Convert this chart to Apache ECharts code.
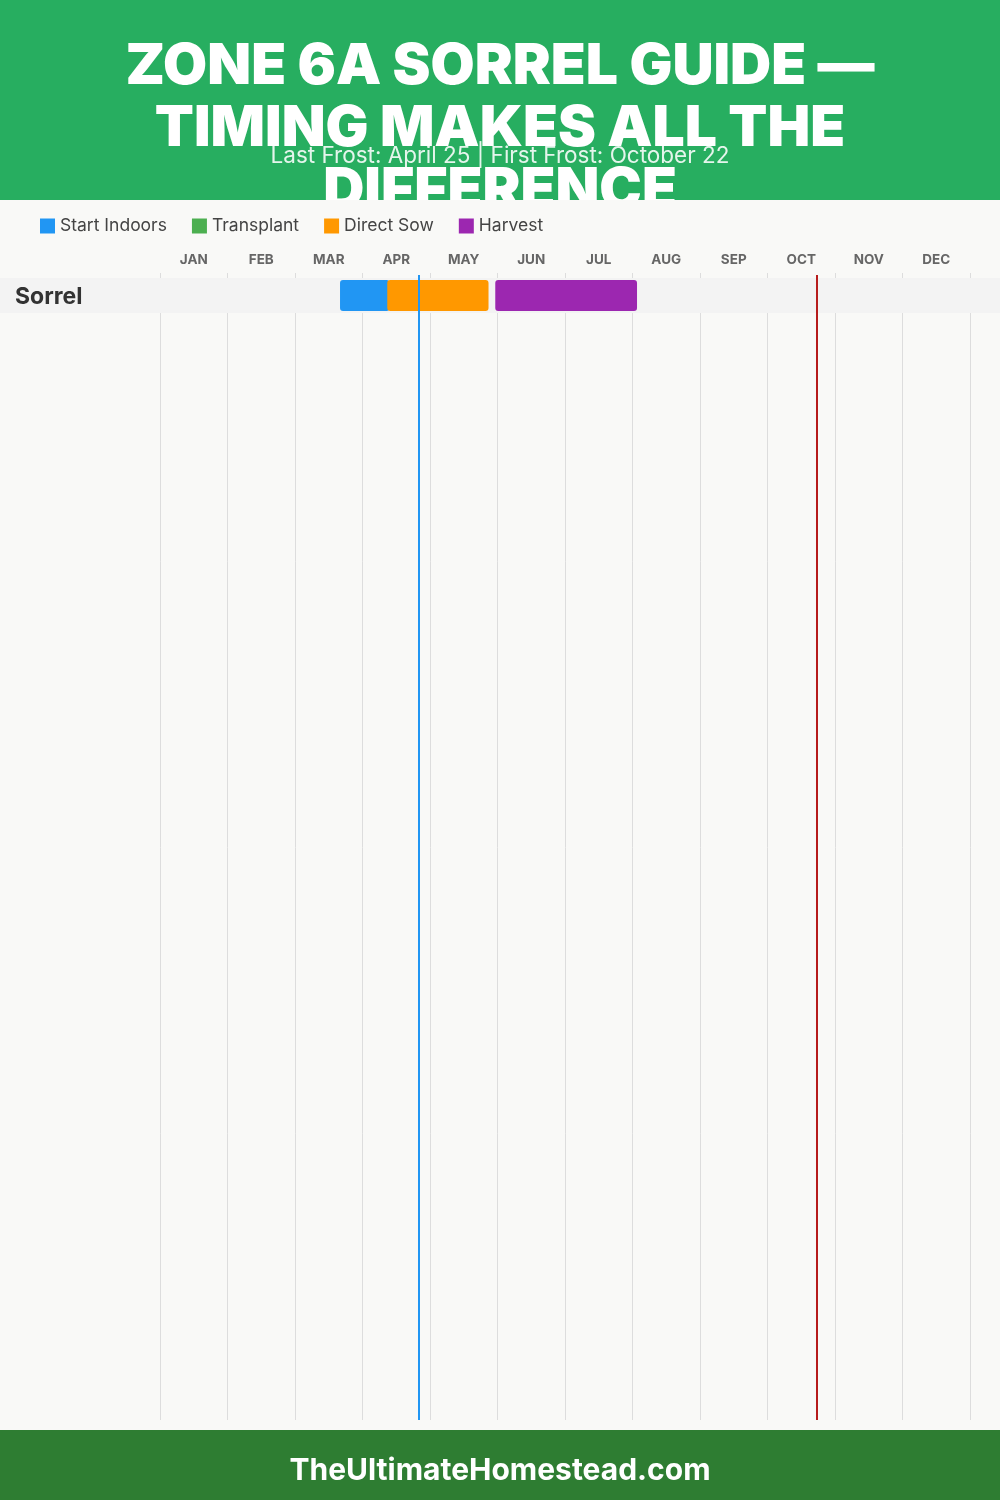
<!DOCTYPE html>
<html>
<head>
<meta charset="utf-8">
<title>Zone 6A Sorrel Guide</title>
<script src="https://cdn.jsdelivr.net/npm/echarts@6/dist/echarts.min.js"></script>
<style>
    html, body { margin: 0; padding: 0; background: #f9f9f7; }
    #PlantingChart { width: 1000px; height: 1500px; }
</style>
</head>
<body>
<div id="PlantingChart"></div>
<script>
// chart data
const months = ['JAN', 'FEB', 'MAR', 'APR', 'MAY', 'JUN', 'JUL', 'AUG', 'SEP', 'OCT', 'NOV', 'DEC'];
const crops = ['Sorrel'];
const phases = ['Start Indoors', 'Transplant', 'Direct Sow', 'Harvest'];
// [cropIndex, start, end] in months from Jan 1 (month index + day / 30)
const startIndoors = [[0, 2.667, 3.4]];
const transplant = [];
const directSow = [[0, 3.367, 4.867]];
const harvest = [[0, 4.967, 7.067]];
const lastFrost = 3.833;   // April 25
const firstFrost = 9.733;  // October 22

const font = 'Inter, "Noto Sans", sans-serif';
const phaseColors = ['#2196F3', '#4CAF50', '#FF9800', '#9C27B0'];
const rowHeight = 35;

let chartInstance = echarts.init(document.getElementById('PlantingChart'));

const renderPhase = function (params, api) {
    let start = api.coord([api.value(1), api.value(0)]);
    let end = api.coord([api.value(2), api.value(0) + 1]);
    return {
        type: 'rect',
        shape: { x: start[0], y: start[1] + 2, width: end[0] - start[0], height: end[1] - start[1] - 4, r: 3 },
        style: { fill: api.visual('color') }
    };
};

const renderRow = function (params, api) {
    let top = api.coord([0, api.value(0)]);
    let bottom = api.coord([0, api.value(0) + 1]);
    return {
        type: 'group',
        children: [
            {
                type: 'rect',
                shape: { x: 0, y: top[1], width: api.getWidth(), height: bottom[1] - top[1] },
                style: { fill: '#f3f3f3' }
            },
            {
                type: 'text',
                x: 15,
                y: (top[1] + bottom[1]) / 2 + 2,
                style: {
                    text: crops[api.value(0)],
                    fill: '#333',
                    font: 'bold 23px ' + font,
                    verticalAlign: 'middle'
                }
            }
        ]
    };
};

const phaseSeries = function (name, data, color) {
    return {
        name: name,
        type: 'custom',
        xAxisIndex: 1,
        renderItem: renderPhase,
        itemStyle: { color: color },
        encode: { x: [1, 2], y: 0 },
        data: data,
        z: 12
    };
};

var option = {
    backgroundColor: '#f9f9f7',
    animation: false,
    graphic: [
        { type: 'rect', shape: { x: 0, y: 0, width: 1000, height: 200 }, style: { fill: '#27ae60' }, z: 0 },
        {
            type: 'text', x: 500, y: 36, z: 1,
            style: {
                text: 'ZONE 6A SORREL GUIDE —\nTIMING MAKES ALL THE\nDIFFERENCE',
                fill: '#fff', font: '900 57px ' + font, lineHeight: 62,
                align: 'center', verticalAlign: 'top'
            }
        },
        { type: 'rect', shape: { x: 0, y: 200, width: 1000, height: 1230 }, style: { fill: '#f9f9f7' }, z: 2 },
        {
            type: 'text', x: 500, y: 156, z: 3,
            style: {
                text: 'Last Frost: April 25 | First Frost: October 22',
                fill: 'rgba(255,255,255,0.88)', font: '22.5px ' + font,
                align: 'center', verticalAlign: 'middle'
            }
        },
        { type: 'rect', shape: { x: 0, y: 1430, width: 1000, height: 70 }, style: { fill: '#2e7d32' }, z: 2 },
        {
            type: 'text', x: 500, y: 1471, z: 3,
            style: {
                text: 'TheUltimateHomestead.com',
                fill: '#fff', font: 'bold 30px ' + font,
                align: 'center', verticalAlign: 'middle'
            }
        }
    ],
    legend: {
        data: phases,
        left: 35,
        top: 212,
        icon: 'rect',
        itemWidth: 15,
        itemHeight: 15,
        itemGap: 25,
        textStyle: { color: '#444', fontSize: 17.5, fontFamily: font },
        z: 20
    },
    grid: { left: 160, right: 30, top: 275, bottom: 80 },
    xAxis: [
        {
            type: 'category',
            position: 'top',
            data: months,
            boundaryGap: true,
            z: 10,
            axisLine: { show: false },
            axisTick: { show: true, length: 5, lineStyle: { color: '#ddd' } },
            axisLabel: { color: '#666', fontSize: 13.5, fontWeight: 'bold', fontFamily: font, margin: 8 },
            splitLine: { show: true, lineStyle: { color: '#ddd', width: 1 } }
        },
        {
            type: 'value',
            min: 0,
            max: 12,
            show: false
        }
    ],
    yAxis: {
        type: 'value',
        inverse: true,
        min: -3 / rowHeight,
        max: (1145 - 3) / rowHeight,
        show: false
    },
    series: [
        {
            type: 'custom',
            xAxisIndex: 1,
            renderItem: renderRow,
            encode: { y: 0 },
            data: crops.map(function (c, i) { return [i]; }),
            z: 11,
            silent: true
        },
        phaseSeries(phases[0], startIndoors, phaseColors[0]),
        phaseSeries(phases[1], transplant, phaseColors[1]),
        phaseSeries(phases[2], directSow, phaseColors[2]),
        phaseSeries(phases[3], harvest, phaseColors[3]),
        {
            type: 'line',
            xAxisIndex: 1,
            data: [],
            z: 15,
            silent: true,
            markLine: {
                z: 20,
                silent: true,
                symbol: 'none',
                label: { show: false },
                data: [
                    { xAxis: lastFrost, lineStyle: { color: '#2196F3', width: 2, type: 'solid' } },
                    { xAxis: firstFrost, lineStyle: { color: '#b71c1c', width: 2, type: 'solid' } }
                ]
            }
        }
    ]
};

chartInstance.setOption(option);
</script>
</body>
</html>
